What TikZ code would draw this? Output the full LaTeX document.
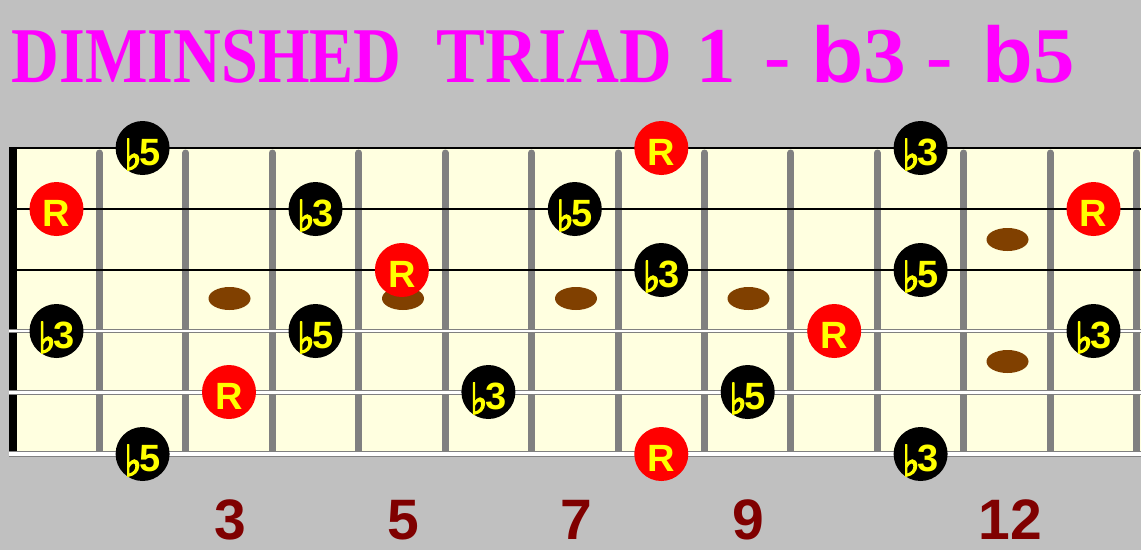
\documentclass[tikz,border=0pt]{standalone}
\usepackage{fontspec}
\usepackage{graphicx}
\setmainfont{Liberation Sans}
\newfontfamily\titleserif{Liberation Serif}
\newfontfamily\flatfont[FakeBold=4]{DejaVu Sans}
\usetikzlibrary{shapes.geometric}
\definecolor{bg}{HTML}{C0C0C0}
\definecolor{boardc}{HTML}{FFFFE0}
\definecolor{fretgray}{HTML}{808080}
\definecolor{inlayc}{HTML}{804000}
\definecolor{numred}{HTML}{800000}
\definecolor{titlemag}{HTML}{FF00FF}
\definecolor{noteyellow}{HTML}{FFFF00}
\newcommand{\flt}{\raisebox{-5pt}{\resizebox{17pt}{31pt}{\flatfont ♭}}\kern-2pt}
\newcommand{\tpiece}[3]{\makebox[0pt][l]{\hspace{#1}\resizebox{#2}{\height}{#3}}}
\newcommand{\tfix}[2]{\makebox[0pt][l]{\hspace{#1}#2}}
\newcommand{\ts}{\titleserif\bfseries}
\tikzset{
  note/.style={circle, minimum size=54pt, inner sep=0pt, text=noteyellow,
    text height=34pt, text depth=0pt, font=\bfseries\fontsize{38}{38}\selectfont},
  rootnote/.style={note, fill=red},
  intnote/.style={note, fill=black},
  fretnum/.style={text=numred, inner sep=0pt, font=\bfseries\fontsize{57}{57}\selectfont},
  inlaydot/.style={ellipse, fill=inlayc, minimum width=42pt, minimum height=23pt, inner sep=0pt},
  fretwire/.style={fretgray, line width=7pt, line cap=round},
  thinstring/.style={black, line width=1.2pt},
  woundout/.style={fretgray, line width=4.6pt},
  woundin/.style={white, line width=2.4pt},
  titlefont/.style={inner sep=0pt, font=\fontsize{79}{79}\selectfont}
}
\begin{document}
\begin{tikzpicture}[x=1pt,y=-1pt]
\useasboundingbox (0,0) rectangle (1141,550);
\fill[bg] (0,0) rectangle (1141,550);
% title
\node[titlefont, text=titlemag, anchor=base west] (title) at (11,82) {%
\tpiece{0pt}{390pt}{\ts DIMINSHED}%
\tpiece{425pt}{236pt}{\ts TRIAD}%
\tfix{685pt}{\ts 1}%
\tfix{753pt}{\ts -}%
\tpiece{800pt}{95pt}{{\bfseries b}{\ts 3}}%
\tfix{915pt}{\ts -}%
\tpiece{971pt}{92pt}{{\bfseries b}{\ts 5}}%
\hspace{1063pt}};
% board
\fill[boardc] (9,148) rectangle (1141,454);
% nut
\fill[black] (9,148) rectangle (17,452);
% frets
\foreach \j in {0,...,12} {
  \draw[fretwire] ({99.3+86.45*\j},153) -- ({99.3+86.45*\j},452);
}
% inlays
\node[inlaydot] (inlay3) at (229.5,298.5) {};
\node[inlaydot] (inlay5) at (403,298.5) {};
\node[inlaydot] (inlay7) at (576,298.5) {};
\node[inlaydot] (inlay9) at (748.5,298.5) {};
\node[inlaydot] (inlay12a) at (1007.5,239.5) {};
\node[inlaydot] (inlay12b) at (1007.5,361.5) {};
% strings
\draw[thinstring] (9,148) -- (1141,148);
\draw[thinstring] (9,209) -- (1141,209);
\draw[thinstring] (9,270) -- (1141,270);
\draw[woundout] (9,331) -- (1141,331);
\draw[woundin] (9,331) -- (1141,331);
\draw[woundout] (9,392.5) -- (1141,392.5);
\draw[woundin] (9,392.5) -- (1141,392.5);
\draw[fretgray, line width=6pt] (9,454) -- (1141,454);
\draw[white, line width=3.4pt] (9,454) -- (1141,454);
% notes string 1
\node[intnote] (s1a) at (142.6,148) {\flt5};
\node[rootnote] (s1b) at (661.3,148) {R};
\node[intnote] (s1c) at (920.6,148) {\flt3};
% string 2
\node[rootnote] (s2a) at (56.5,209) {R};
\node[intnote] (s2b) at (315.5,209) {\flt3};
\node[intnote] (s2c) at (574.8,209) {\flt5};
\node[rootnote] (s2d) at (1093.5,209) {R};
% string 3
\node[rootnote] (s3a) at (401.9,270) {R};
\node[intnote] (s3b) at (661.3,270) {\flt3};
\node[intnote] (s3c) at (920.6,270) {\flt5};
% string 4
\node[intnote] (s4a) at (56.5,331) {\flt3};
\node[intnote] (s4b) at (315.5,331) {\flt5};
\node[rootnote] (s4c) at (834.2,331) {R};
\node[intnote] (s4d) at (1093.5,331) {\flt3};
% string 5
\node[rootnote] (s5a) at (229,392) {R};
\node[intnote] (s5b) at (488.4,392) {\flt3};
\node[intnote] (s5c) at (747.7,392) {\flt5};
% string 6
\node[intnote] (s6a) at (142.6,454) {\flt5};
\node[rootnote] (s6b) at (661.3,454) {R};
\node[intnote] (s6c) at (920.6,454) {\flt3};
% fret numbers
\node[fretnum] (n3) at (230,520) {3};
\node[fretnum] (n5) at (403,520) {5};
\node[fretnum] (n7) at (576,520) {7};
\node[fretnum] (n9) at (748.5,520) {9};
\node[fretnum] (n12) at (1010,520) {12};
\end{tikzpicture}
\end{document}
